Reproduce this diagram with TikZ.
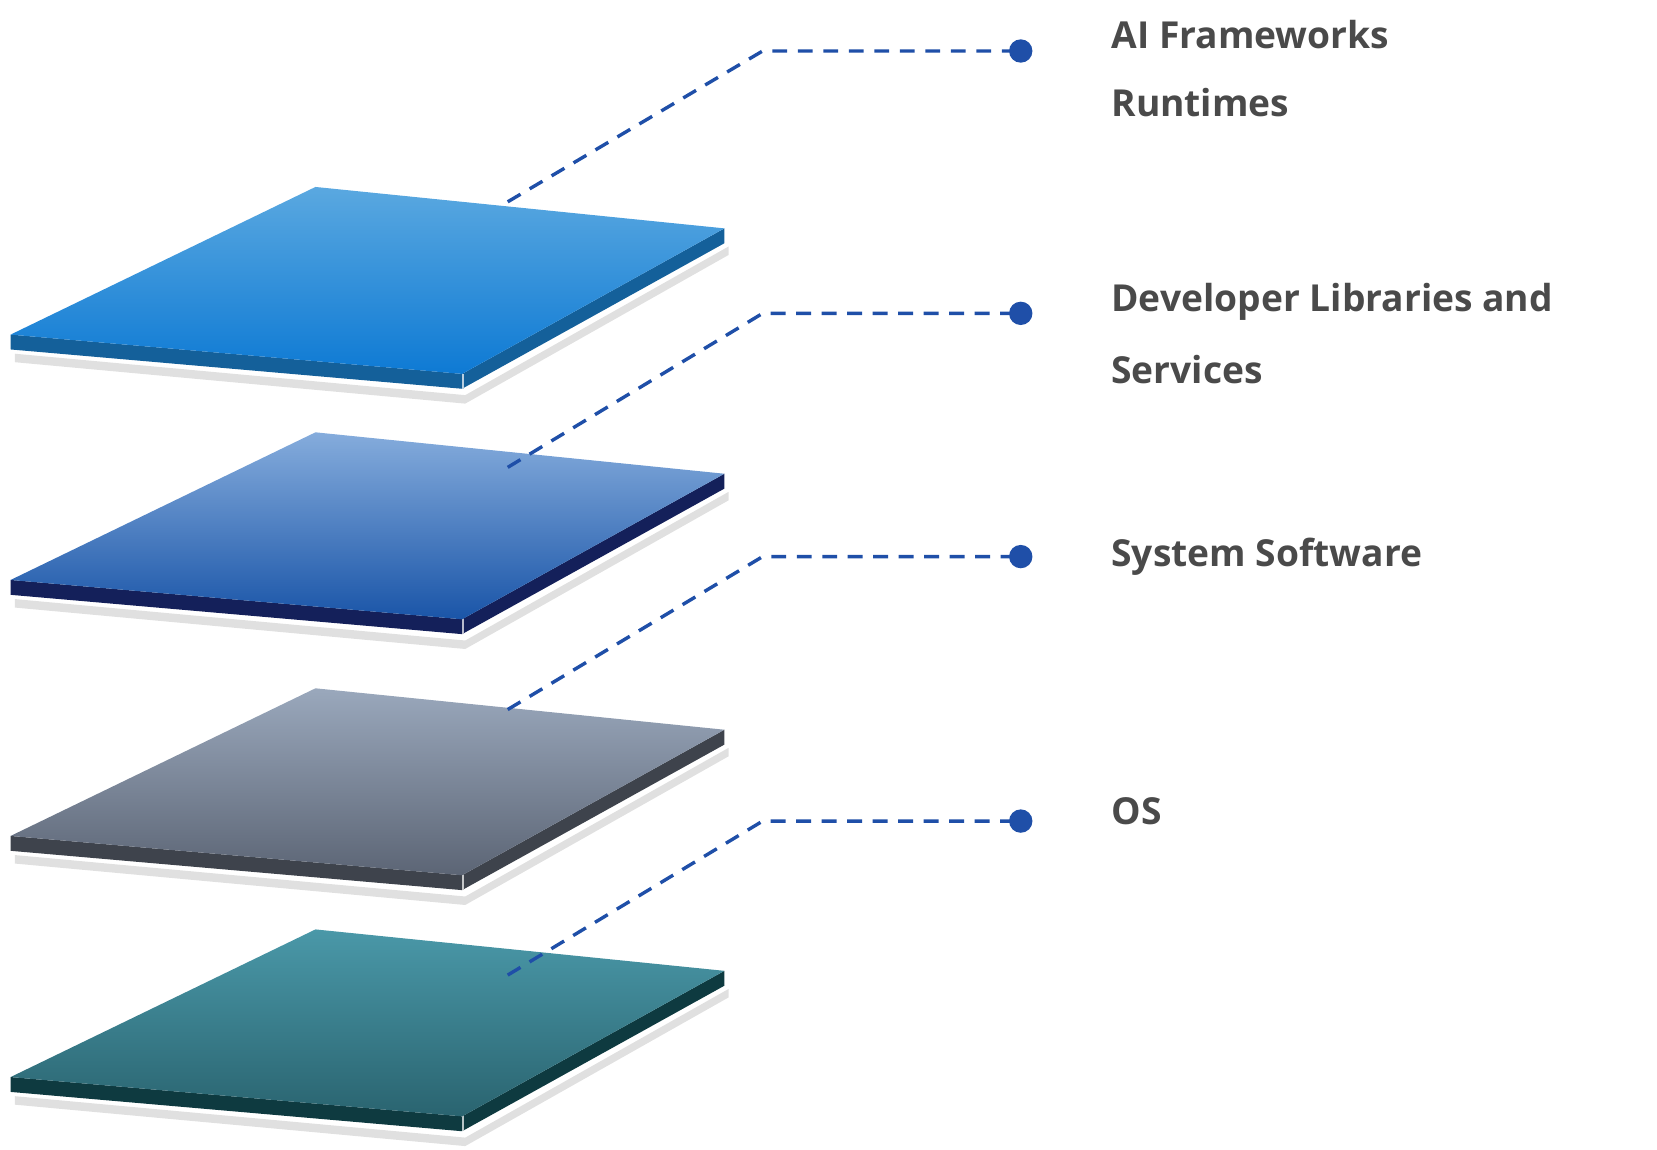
\documentclass[tikz,border=0pt]{standalone}
\usepackage{fontspec}
\setmainfont{Open Sans}
\begin{document}
\begin{tikzpicture}[x=0.5pt,y=-0.5pt,
  lead/.style={draw=dotblue,line width=1.6pt,dash pattern=on 7pt off 5pt},
  dotn/.style={circle,fill=dotblue,inner sep=0pt,minimum size=11pt},
  lbl/.style={anchor=west,text=labelgray,font=\bfseries\fontsize{17.5}{21}\selectfont,inner sep=0pt}]
\definecolor{dotblue}{HTML}{1F4FA8}
\definecolor{labelgray}{HTML}{4A4A4A}
\definecolor{aT}{HTML}{5AA8E0}\definecolor{aB}{HTML}{0E7AD4}\definecolor{aS}{HTML}{14609A}
\definecolor{bT}{HTML}{85ACDC}\definecolor{bB}{HTML}{1A55A8}\definecolor{bS}{HTML}{14205A}
\definecolor{cT}{HTML}{9AA8BC}\definecolor{cB}{HTML}{5C6575}\definecolor{cS}{HTML}{3E434C}
\definecolor{dT}{HTML}{4A98A8}\definecolor{dB}{HTML}{2A6470}\definecolor{dS}{HTML}{0E3A40}
\useasboundingbox (0,0) rectangle (1560,1082);
\foreach \dy/\c [count=\i] in {0/a,231/b,472/c,699/d}{
  \begin{scope}[yshift=-0.5*\dy pt]
    \fill[black!12] (14,333) -- (438,372) -- (686,232) -- (686,240) -- (438,380) -- (14,341) -- cycle;
    \fill[\c S] (10,315) -- (435,352) -- (682,215) -- (682,229) -- (435,366) -- (10,329) -- cycle;
    \fill[white!70!\c S] (435,352) -- (437,352) -- (437,366) -- (435,366) -- cycle;
    \shade[top color=\c T,bottom color=\c B] (10,315) -- (297,176) -- (682,215) -- (435,352) -- cycle;
    \coordinate (p\i) at (478,190);
    \coordinate (k\i) at (718,48);
  \end{scope}
}
\node[dotn] (d1) at (961,48) {};
\node[dotn] (d2) at (961,295) {};
\node[dotn] (d3) at (961,524) {};
\node[dotn] (d4) at (961,773) {};
\coordinate (k2) at (718,295);\coordinate (k3) at (718,524);\coordinate (k4) at (718,773);
\coordinate (p2) at (478,440);\coordinate (p3) at (478,668);\coordinate (p4) at (478,918);
\foreach \i in {1,...,4}{\draw[lead] (p\i) -- (k\i) -- (d\i.center);}
\node[lbl] (t1) at (1046,33) {AI Frameworks};
\node[lbl] (t1b) at (1046,97) {Runtimes};
\node[lbl] (t2) at (1046,284) {Developer Libraries and};
\node[lbl] (t2b) at (1046,348) {Services};
\node[lbl] (t3) at (1046,524) {System Software};
\node[lbl] (t4) at (1046,764) {OS};
\end{tikzpicture}
\end{document}
